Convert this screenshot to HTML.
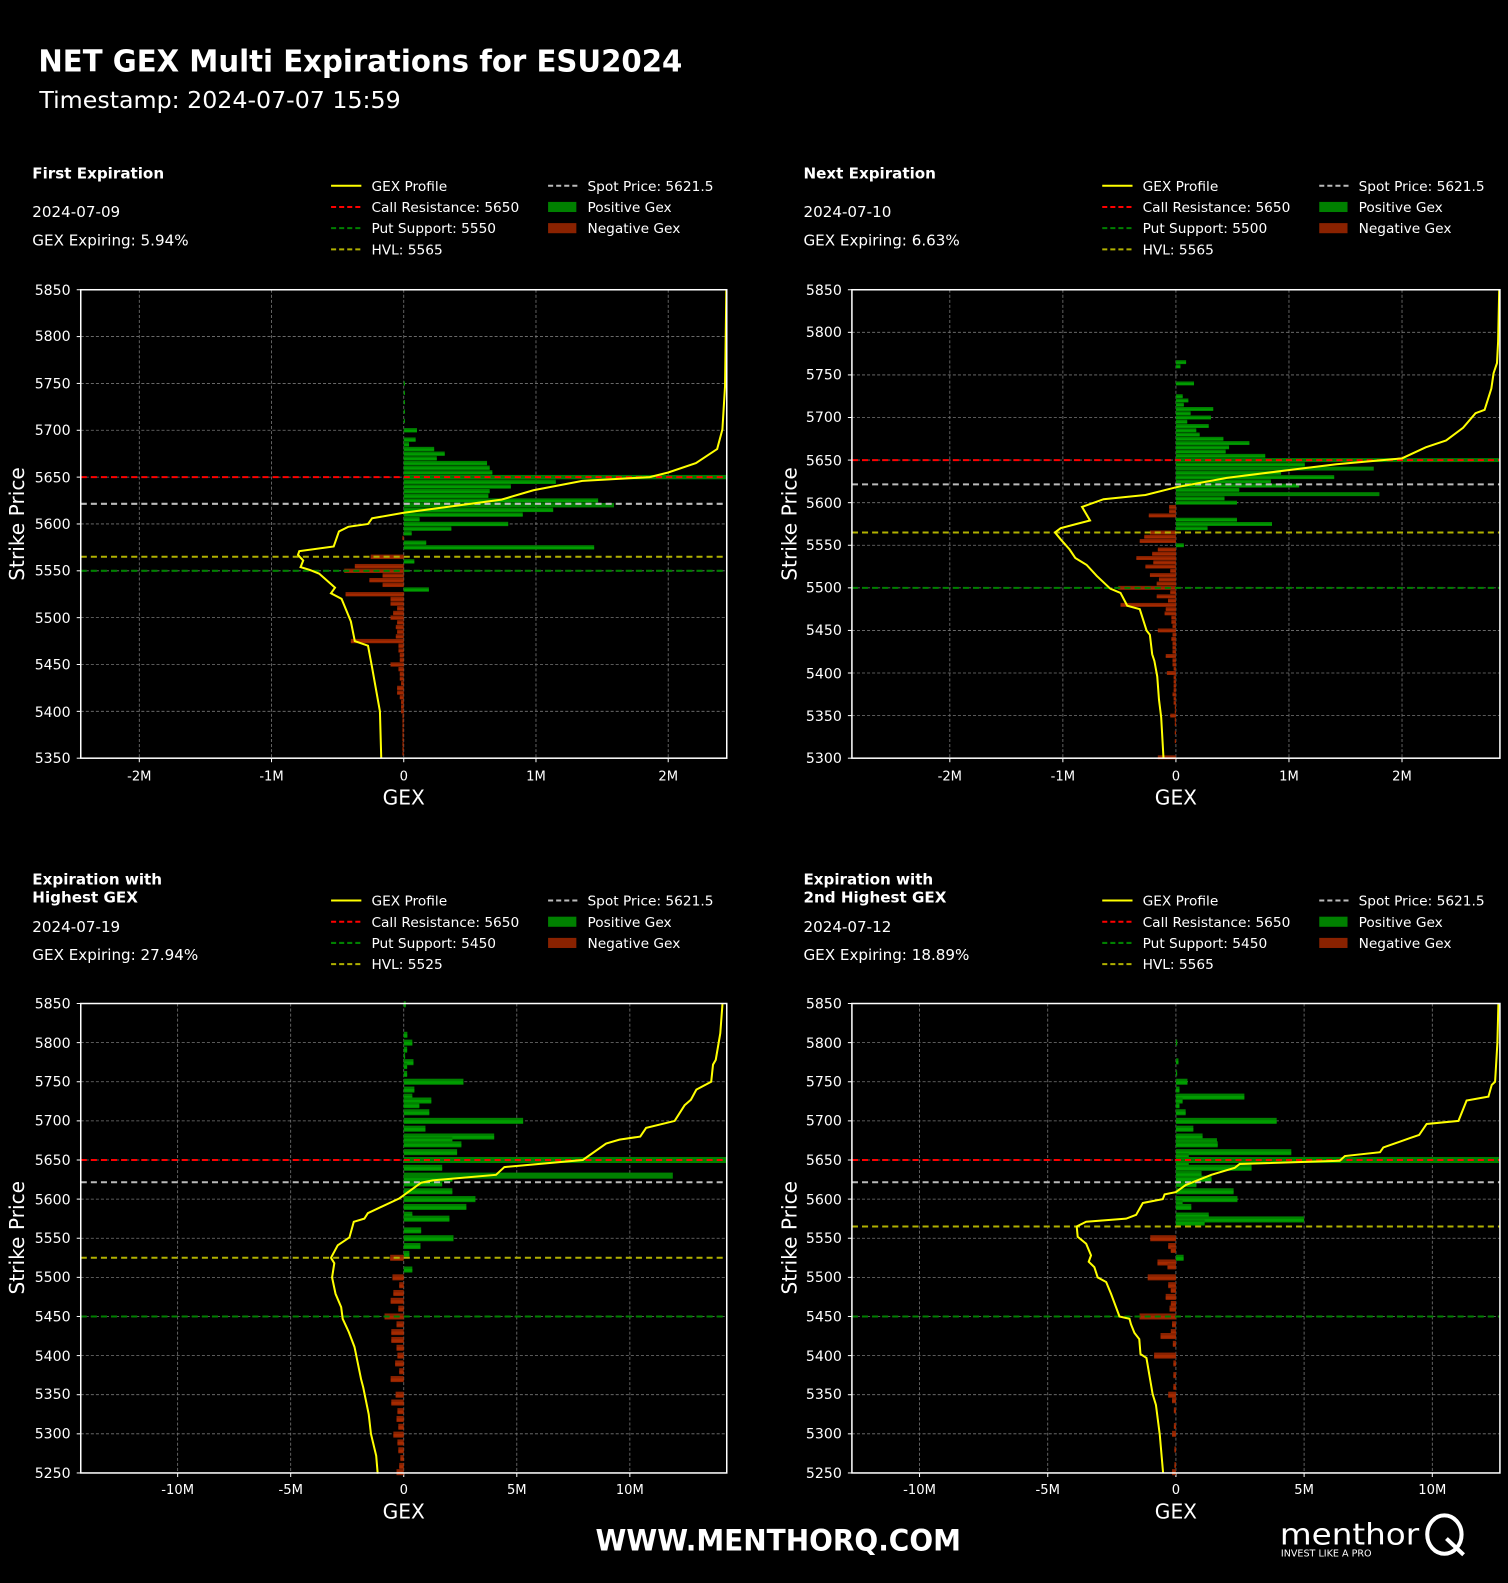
<!DOCTYPE html>
<html><head><meta charset="utf-8"><style>
html,body{margin:0;padding:0;background:#000;}
svg{display:block;}
text{font-family:"DejaVu Sans","Liberation Sans",sans-serif;fill:#fff;}
</style></head><body>
<svg id="s" width="1508" height="1583" viewBox="0 0 1494 1568" preserveAspectRatio="none" xmlns="http://www.w3.org/2000/svg">
<rect width="1494" height="1568" fill="#000"/>
<g id="geo"></g>
<text x="38" y="71" font-size="30" font-weight="bold" textLength="638" lengthAdjust="spacingAndGlyphs">NET GEX Multi Expirations for ESU2024</text>
<text x="39" y="107" font-size="23" textLength="358" lengthAdjust="spacingAndGlyphs">Timestamp: 2024-07-07 15:59</text>

<!-- panel headers -->
<g font-size="15">
<text x="32" y="177" font-weight="bold">First Expiration</text>
<text x="32" y="215">2024-07-09</text>
<text x="32" y="243">GEX Expiring: 5.94%</text>
<text x="796" y="177" font-weight="bold">Next Expiration</text>
<text x="796" y="215">2024-07-10</text>
<text x="796" y="243">GEX Expiring: 6.63%</text>
<text x="32" y="876" font-weight="bold">Expiration with</text>
<text x="32" y="894" font-weight="bold">Highest GEX</text>
<text x="32" y="923">2024-07-19</text>
<text x="32" y="951">GEX Expiring: 27.94%</text>
<text x="796" y="876" font-weight="bold">Expiration with</text>
<text x="796" y="894" font-weight="bold">2nd Highest GEX</text>
<text x="796" y="923">2024-07-12</text>
<text x="796" y="951">GEX Expiring: 18.89%</text>
</g>

<!-- legends -->
<g font-size="13.6">
<text x="368" y="189">GEX Profile</text><text x="368" y="210">Call Resistance: 5650</text><text x="368" y="231">Put Support: 5550</text><text x="368" y="252">HVL: 5565</text>
<text x="582" y="189">Spot Price: 5621.5</text><text x="582" y="210">Positive Gex</text><text x="582" y="231">Negative Gex</text>
<text x="1132" y="189">GEX Profile</text><text x="1132" y="210">Call Resistance: 5650</text><text x="1132" y="231">Put Support: 5500</text><text x="1132" y="252">HVL: 5565</text>
<text x="1346" y="189">Spot Price: 5621.5</text><text x="1346" y="210">Positive Gex</text><text x="1346" y="231">Negative Gex</text>
<text x="368" y="897">GEX Profile</text><text x="368" y="918">Call Resistance: 5650</text><text x="368" y="939">Put Support: 5450</text><text x="368" y="960">HVL: 5525</text>
<text x="582" y="897">Spot Price: 5621.5</text><text x="582" y="918">Positive Gex</text><text x="582" y="939">Negative Gex</text>
<text x="1132" y="897">GEX Profile</text><text x="1132" y="918">Call Resistance: 5650</text><text x="1132" y="939">Put Support: 5450</text><text x="1132" y="960">HVL: 5565</text>
<text x="1346" y="897">Spot Price: 5621.5</text><text x="1346" y="918">Positive Gex</text><text x="1346" y="939">Negative Gex</text>
</g>

<!-- y tick labels -->
<g font-size="14" text-anchor="end">
<text x="70" y="292">5850</text><text x="70" y="338">5800</text><text x="70" y="385">5750</text><text x="70" y="431">5700</text><text x="70" y="478">5650</text><text x="70" y="524">5600</text><text x="70" y="570">5550</text><text x="70" y="617">5500</text><text x="70" y="663">5450</text><text x="70" y="710">5400</text><text x="70" y="756">5350</text>
<text x="834" y="292">5850</text><text x="834" y="334">5800</text><text x="834" y="376">5750</text><text x="834" y="418">5700</text><text x="834" y="461">5650</text><text x="834" y="503">5600</text><text x="834" y="545">5550</text><text x="834" y="587">5500</text><text x="834" y="629">5450</text><text x="834" y="672">5400</text><text x="834" y="714">5350</text><text x="834" y="756">5300</text>
<text x="70" y="999">5850</text><text x="70" y="1038">5800</text><text x="70" y="1076">5750</text><text x="70" y="1115">5700</text><text x="70" y="1154">5650</text><text x="70" y="1193">5600</text><text x="70" y="1231">5550</text><text x="70" y="1270">5500</text><text x="70" y="1309">5450</text><text x="70" y="1348">5400</text><text x="70" y="1386">5350</text><text x="70" y="1425">5300</text><text x="70" y="1464">5250</text>
<text x="834" y="999">5850</text><text x="834" y="1038">5800</text><text x="834" y="1076">5750</text><text x="834" y="1115">5700</text><text x="834" y="1154">5650</text><text x="834" y="1193">5600</text><text x="834" y="1231">5550</text><text x="834" y="1270">5500</text><text x="834" y="1309">5450</text><text x="834" y="1348">5400</text><text x="834" y="1386">5350</text><text x="834" y="1425">5300</text><text x="834" y="1464">5250</text>
</g>
<!-- x tick labels -->
<g font-size="13" text-anchor="middle">
<text x="138" y="773">-2M</text><text x="269" y="773">-1M</text><text x="400" y="773">0</text><text x="531" y="773">1M</text><text x="662" y="773">2M</text>
<text x="941" y="773">-2M</text><text x="1053" y="773">-1M</text><text x="1165" y="773">0</text><text x="1277" y="773">1M</text><text x="1389" y="773">2M</text>
<text x="176" y="1480">-10M</text><text x="288" y="1480">-5M</text><text x="400" y="1480">0</text><text x="512" y="1480">5M</text><text x="624" y="1480">10M</text>
<text x="911" y="1480">-10M</text><text x="1038" y="1480">-5M</text><text x="1165" y="1480">0</text><text x="1292" y="1480">5M</text><text x="1419" y="1480">10M</text>
</g>
<g font-size="20" text-anchor="middle">
<text x="400" y="797">GEX</text><text x="1165" y="797">GEX</text><text x="400" y="1504">GEX</text><text x="1165" y="1504">GEX</text>
<text transform="translate(24,519) rotate(-90)">Strike Price</text>
<text transform="translate(789,519) rotate(-90)">Strike Price</text>
<text transform="translate(24,1226) rotate(-90)">Strike Price</text>
<text transform="translate(789,1226) rotate(-90)">Strike Price</text>
</g>
<text x="590" y="1536" font-size="29" font-weight="bold" textLength="362" lengthAdjust="spacingAndGlyphs" font-family="Liberation Sans, sans-serif">WWW.MENTHORQ.COM</text>
<text x="1268" y="1530" font-size="29" font-family="Liberation Sans, sans-serif" textLength="138" lengthAdjust="spacingAndGlyphs">menthor</text>
<text x="1269" y="1542" font-size="9.5" font-family="Liberation Sans, sans-serif" fill="#ddd">INVEST LIKE A PRO</text>
<ellipse cx="1431" cy="1520" rx="17" ry="19" fill="none" stroke="#fff" stroke-width="4"/>
<line x1="1433" y1="1524" x2="1450" y2="1540" stroke="#fff" stroke-width="4"/>
</svg>
<script>
var NS="http://www.w3.org/2000/svg",G=document.getElementById("geo");
function el(t,a){var e=document.createElementNS(NS,t);for(var k in a)e.setAttribute(k,a[k]);G.appendChild(e);return e;}
var panels=[
{L:80,R:720,T:287,B:751,z:400,k:131,ymax:5850,ymin:5350,xt:[-2,-1,0,1,2],hv:5565,ps:5550,bh:4.3,
bars:[[5750,.005],[5740,.005],[5730,.005],[5720,.005],[5710,.005],[5700,.1],[5690,.09],[5685,.04],[5680,.23],[5675,.31],[5670,.25],[5665,.63],[5660,.65],[5655,.67],[5650,2.45],[5645,1.15],[5640,.81],[5635,.65],[5630,.64],[5625,1.47],[5620,1.59],[5615,1.13],[5610,.9],[5605,.12],[5600,.79],[5595,.36],[5590,.06],[5585,-.01],[5580,.17],[5575,1.44],[5565,-.25],[5560,.08],[5555,-.37],[5550,-.45],[5545,-.16],[5540,-.26],[5535,-.16],[5530,.19],[5525,-.44],[5520,-.1],[5515,-.1],[5510,-.05],[5505,-.08],[5500,-.1],[5495,-.05],[5490,-.06],[5485,-.05],[5480,-.06],[5475,-.4],[5470,-.04],[5465,-.04],[5460,-.03],[5455,-.03],[5450,-.1],[5445,-.04],[5440,-.03],[5435,-.03],[5430,-.02],[5425,-.05],[5420,-.05],[5415,-.03],[5410,-.02],[5405,-.02],[5400,-.02],[5395,-.01],[5390,-.01],[5385,-.01],[5380,-.01],[5375,-.01],[5370,-.01],[5365,-.01],[5360,-.01],[5355,-.01]],
line:[[-.17,5350],[-.18,5400],[-.24,5447],[-.27,5470],[-.37,5475],[-.4,5496],[-.47,5520],[-.55,5526],[-.52,5532],[-.64,5547],[-.71,5551],[-.78,5554],[-.76,5561],[-.8,5567],[-.79,5571],[-.53,5576],[-.49,5592],[-.42,5597],[-.27,5600],[-.24,5606],[0,5612],[.74,5626],[.98,5636],[1.35,5646],[1.86,5650],[2.0,5655],[2.21,5665],[2.37,5680],[2.41,5701],[2.43,5747],[2.44,5850]]},
{L:844,R:1486,T:287,B:751,z:1165,k:112,ymax:5850,ymin:5300,xt:[-2,-1,0,1,2],hv:5565,ps:5500,bh:3.9,
bars:[[5765,.09],[5760,.04],[5740,.16],[5725,.06],[5720,.11],[5715,.07],[5710,.33],[5705,.13],[5700,.31],[5695,.1],[5690,.29],[5685,.18],[5680,.21],[5675,.42],[5670,.65],[5665,.47],[5660,.44],[5655,.79],[5650,2.87],[5645,1.14],[5640,1.75],[5635,.93],[5630,1.4],[5625,.84],[5620,1.09],[5615,.56],[5610,1.8],[5605,.43],[5600,.54],[5595,-.06],[5590,-.06],[5585,-.24],[5580,.54],[5575,.85],[5570,.28],[5565,-.23],[5560,-.28],[5555,-.32],[5550,.07],[5545,-.16],[5540,-.21],[5535,-.35],[5530,-.2],[5525,-.27],[5520,-.05],[5515,-.23],[5510,-.15],[5505,-.17],[5500,-.51],[5495,-.05],[5490,-.17],[5485,-.07],[5480,-.49],[5475,-.09],[5470,-.1],[5465,-.04],[5460,-.04],[5455,-.03],[5450,-.16],[5445,-.03],[5440,-.04],[5435,-.03],[5430,-.03],[5425,-.03],[5420,-.09],[5415,-.03],[5410,-.03],[5405,-.02],[5400,-.08],[5395,-.02],[5390,-.02],[5385,-.02],[5380,-.02],[5375,-.03],[5370,-.02],[5365,-.02],[5360,-.01],[5355,-.01],[5350,-.05],[5345,-.01],[5340,-.01],[5330,-.01],[5320,-.01],[5301,-.16]],
line:[[-.11,5300],[-.13,5348],[-.15,5369],[-.165,5396],[-.19,5414],[-.21,5422],[-.23,5445],[-.26,5450],[-.32,5475],[-.43,5479],[-.49,5494],[-.58,5499],[-.7,5514],[-.79,5527],[-.89,5535],[-.94,5545],[-1.02,5557],[-1.07,5565],[-1.02,5570],[-.88,5575],[-.76,5579],[-.83,5595],[-.64,5604],[-.27,5609],[0,5618],[.45,5629],[1.04,5639],[1.42,5645],[2.0,5652],[2.21,5665],[2.39,5673],[2.54,5688],[2.65,5705],[2.73,5709],[2.79,5734],[2.81,5752],[2.84,5764],[2.85,5789],[2.86,5850]]},
{L:80,R:720,T:994,B:1459,z:400,k:22.4,ymax:5850,ymin:5250,xt:[-10,-5,0,5,10],hv:5525,ps:5450,bh:6,
bars:[[5849,.09],[5810,.16],[5800,.38],[5791,.15],[5783,.06],[5775,.43],[5770,.15],[5760,.15],[5750,2.64],[5740,.47],[5731,.38],[5726,1.22],[5720,.69],[5711,1.13],[5700,5.28],[5690,.96],[5680,4.0],[5676,2.15],[5670,2.55],[5660,2.36],[5650,14.3],[5640,1.7],[5630,11.9],[5626,2.15],[5620,1.7],[5610,2.15],[5600,3.17],[5590,2.77],[5580,.38],[5575,2.02],[5560,.77],[5550,2.2],[5540,.74],[5530,.25],[5525,-.6],[5510,.38],[5500,-.5],[5490,-.2],[5480,-.46],[5470,-.58],[5460,-.24],[5450,-.85],[5440,-.32],[5430,-.55],[5420,-.55],[5410,-.32],[5400,-.28],[5390,-.38],[5380,-.2],[5370,-.58],[5350,-.36],[5340,-.55],[5329,-.28],[5319,-.32],[5309,-.24],[5299,-.46],[5289,-.28],[5279,-.24],[5269,-.15],[5259,-.2],[5251,-.32]],
line:[[-1.15,5249],[-1.22,5272],[-1.45,5300],[-1.55,5325],[-1.79,5359],[-1.89,5370],[-2.18,5411],[-2.43,5430],[-2.7,5447],[-2.77,5462],[-3.02,5479],[-3.17,5500],[-3.07,5518],[-3.22,5525],[-2.92,5541],[-2.4,5551],[-2.21,5571],[-1.74,5575],[-1.59,5582],[-.19,5601],[.77,5621],[1.28,5624],[4.08,5631],[4.45,5641],[7.92,5650],[8.95,5671],[9.54,5676],[10.46,5680],[10.72,5691],[11.98,5700],[12.42,5720],[12.7,5727],[12.94,5740],[13.6,5750],[13.68,5772],[13.8,5778],[14.0,5812],[14.1,5850]]},
{L:844,R:1486,T:994,B:1459,z:1165,k:25.4,ymax:5850,ymin:5250,xt:[-10,-5,0,5,10],hv:5565,ps:5450,bh:6,
bars:[[5800,.05],[5776,.1],[5761,.04],[5750,.45],[5740,.14],[5731,2.67],[5726,.26],[5720,.14],[5711,.38],[5700,3.93],[5690,.68],[5680,1.04],[5674,1.6],[5670,1.63],[5660,4.5],[5655,.5],[5650,12.6],[5645,.5],[5640,2.95],[5632,1.0],[5626,1.39],[5619,.8],[5610,2.25],[5600,2.4],[5595,.26],[5590,.6],[5579,1.28],[5574,5.0],[5570,1.12],[5550,-1.0],[5540,-.3],[5535,-.2],[5525,.3],[5519,-.72],[5514,-.33],[5500,-1.1],[5490,-.3],[5484,-.2],[5475,-.4],[5466,-.2],[5460,-.25],[5450,-1.42],[5440,-.15],[5430,-.2],[5425,-.6],[5415,-.12],[5400,-.85],[5390,-.1],[5375,-.1],[5360,-.1],[5350,-.3],[5343,-.15],[5330,-.08],[5310,-.08],[5300,-.15],[5280,-.06],[5260,-.06],[5251,-.15]],
line:[[-.5,5250],[-.63,5299],[-.78,5337],[-.91,5351],[-1.15,5397],[-1.38,5402],[-1.43,5421],[-1.62,5429],[-1.75,5440],[-1.81,5447],[-2.2,5450],[-2.53,5479],[-2.72,5494],[-3.05,5500],[-3.18,5513],[-3.4,5520],[-3.31,5528],[-3.5,5543],[-3.83,5552],[-3.87,5565],[-3.5,5571],[-1.94,5575],[-1.55,5580],[-1.29,5595],[-.51,5600],[-.44,5606],[0,5609],[.38,5618],[1.38,5631],[2.29,5640],[2.49,5645],[6.39,5649],[6.59,5655],[7.96,5660],[8.09,5666],[9.13,5678],[9.49,5682],[9.78,5696],[11.02,5700],[11.34,5726],[12.19,5731],[12.32,5746],[12.45,5750],[12.54,5800],[12.58,5850]]}
];
[[328,184],[1092,184],[328,892],[1092,892]].forEach(function(o){
 var x=o[0],y=o[1];
 el("line",{x1:x,y1:y,x2:x+30,y2:y,stroke:"#ffff00","stroke-width":2});
 el("line",{x1:x,y1:y+21,x2:x+30,y2:y+21,stroke:"#ff0000","stroke-width":2,"stroke-dasharray":"5,3"});
 el("line",{x1:x,y1:y+42,x2:x+30,y2:y+42,stroke:"#008000","stroke-width":2,"stroke-dasharray":"5,3"});
 el("line",{x1:x,y1:y+63,x2:x+30,y2:y+63,stroke:"#b0b000","stroke-width":2,"stroke-dasharray":"5,3"});
 el("line",{x1:x+215,y1:y,x2:x+245,y2:y,stroke:"#bbbbbb","stroke-width":2,"stroke-dasharray":"5,3"});
 el("rect",{x:x+215,y:y+16,width:28,height:10,fill:"#008000"});
 el("rect",{x:x+215,y:y+37,width:28,height:10,fill:"#8a2200"});
});
panels.forEach(function(p){
 var sy=(p.B-p.T)/(p.ymax-p.ymin);
 function Y(s){return p.T+(p.ymax-s)*sy;}
 function X(v){return p.z+v*p.k;}
 for(var s=p.ymin;s<=p.ymax;s+=50){var y=Y(s);
  el("line",{x1:p.L,y1:y,x2:p.R,y2:y,stroke:"#777","stroke-width":0.8,"stroke-dasharray":"3,2"});
  el("line",{x1:p.L-4,y1:y,x2:p.L,y2:y,stroke:"#fff","stroke-width":1});}
 p.xt.forEach(function(v){var x=X(v);
  el("line",{x1:x,y1:p.T,x2:x,y2:p.B,stroke:"#777","stroke-width":0.8,"stroke-dasharray":"3,2"});
  el("line",{x1:x,y1:p.B,x2:x,y2:p.B+4,stroke:"#fff","stroke-width":1});});
 var g=el("g",{});
 p.bars.forEach(function(b){var v=b[1],y=Y(b[0]),x0=X(0),x1=X(v);
  var w=Math.abs(x1-x0); if(w<1.2)w=1.2;
  var r=document.createElementNS(NS,"rect");
  r.setAttribute("x",Math.min(x0,x1));r.setAttribute("y",y-p.bh/2);r.setAttribute("width",Math.min(w,p.R-Math.min(x0,x1)));r.setAttribute("height",p.bh);
  r.setAttribute("fill",v>=0?"#008000":"#8a2200");g.appendChild(r);
  if(Math.abs(v)<1.5*( p.k>100?1:6)){var r2=r.cloneNode();r2.setAttribute("height",p.bh*0.45);r2.setAttribute("y",y-p.bh*0.1);r2.setAttribute("fill",v>=0?"#00b000":"#b83000");r2.setAttribute("opacity","0.6");g.appendChild(r2);}
 });
 [[5650,"#ff0000"],[p.ps,"#008000"],[p.hv,"#b0b000"],[5621.5,"#bbbbbb"]].forEach(function(r){
  el("line",{x1:p.L,y1:Y(r[0]),x2:p.R,y2:Y(r[0]),stroke:r[1],"stroke-width":2,"stroke-dasharray":"6,4"});});
 var pts=p.line.map(function(q){return X(q[0]).toFixed(1)+","+Y(q[1]).toFixed(1);}).join(" ");
 el("polyline",{points:pts,fill:"none",stroke:"#ffff00","stroke-width":2});
 el("rect",{x:p.L,y:p.T,width:p.R-p.L,height:p.B-p.T,fill:"none",stroke:"#fff","stroke-width":1.5});
});
</script>
</body></html>
